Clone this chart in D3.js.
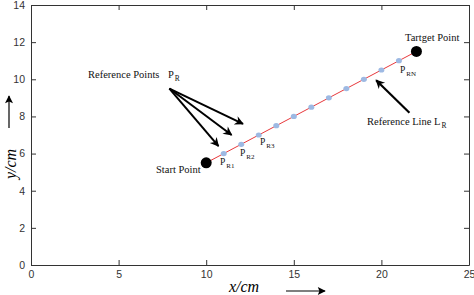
<!DOCTYPE html>
<html><head><meta charset="utf-8">
<script src="https://cdn.jsdelivr.net/npm/d3@7"></script>
<style>body{margin:0;background:#fff}svg{display:block}</style>
</head><body><svg id="c" width="474" height="295"></svg>
<script>
const xTicks = [0, 5, 10, 15, 20, 25];
const yTicks = [0, 2, 4, 6, 8, 10, 12, 14];
const startPoint = [10, 5.5];
const targetPoint = [22, 11.5];
const refX = [11, 12, 13, 14, 15, 16, 17, 18, 19, 20, 21];
const refY = [6, 6.5, 7, 7.5, 8, 8.5, 9, 9.5, 10, 10.5, 11];

const svg = d3.select("#c");
const x = d3.scaleLinear().domain([0, 25]).range([31, 469]);
const y = d3.scaleLinear().domain([0, 14]).range([265, 5]);

const defs = svg.append("defs");
defs.append("marker").attr("id", "ah").attr("viewBox", "0 0 10 10").attr("refX", 9).attr("refY", 5)
  .attr("markerWidth", 10).attr("markerHeight", 8).attr("markerUnits", "userSpaceOnUse").attr("orient", "auto")
  .append("path").attr("d", "M0,0 L10,5 L0,10 L2,5 Z").attr("fill", "#000");
defs.append("marker").attr("id", "ah2").attr("viewBox", "0 0 10 10").attr("refX", 9).attr("refY", 5)
  .attr("markerWidth", 13).attr("markerHeight", 9).attr("markerUnits", "userSpaceOnUse").attr("orient", "auto")
  .append("path").attr("d", "M0,0 L10,5 L0,10 L3,5 Z").attr("fill", "#000");

const axStyle = g => {
  g.selectAll("path.domain").attr("stroke", "#333");
  g.selectAll(".tick line").attr("stroke", "#333");
  g.selectAll(".tick text").attr("font-family", "Liberation Sans, Arial, sans-serif").attr("font-size", 10.5).attr("fill", "#333");
};
svg.append("g").attr("transform", `translate(0,${y(0)})`)
  .call(d3.axisBottom(x).tickValues(xTicks).tickSizeInner(-5).tickSizeOuter(0).tickPadding(6)).call(axStyle);
svg.append("g").attr("transform", `translate(${x(0)},0)`)
  .call(d3.axisLeft(y).tickValues(yTicks).tickSizeInner(-5).tickSizeOuter(0).tickPadding(6)).call(axStyle);
svg.append("g").attr("transform", `translate(0,${y(14)})`)
  .call(d3.axisTop(x).tickValues(xTicks).tickSizeInner(-5).tickSizeOuter(0).tickFormat("")).call(axStyle);
svg.append("g").attr("transform", `translate(${x(25)},0)`)
  .call(d3.axisRight(y).tickValues(yTicks).tickSizeInner(-5).tickSizeOuter(0).tickFormat("")).call(axStyle);

svg.append("line").attr("x1", x(startPoint[0])).attr("y1", y(startPoint[1]))
  .attr("x2", x(targetPoint[0])).attr("y2", y(targetPoint[1]))
  .attr("stroke", "#e8383c").attr("stroke-width", 1);

svg.selectAll("ellipse.rp").data(refX).join("ellipse").attr("class", "rp")
  .attr("cx", d => x(d)).attr("cy", (d, i) => y(refY[i])).attr("rx", 3).attr("ry", 2.6)
  .attr("fill", "#9db9e3");

svg.append("circle").attr("cx", x(startPoint[0])).attr("cy", y(startPoint[1])).attr("r", 5.5).attr("fill", "#000");
svg.append("circle").attr("cx", x(targetPoint[0])).attr("cy", y(targetPoint[1])).attr("r", 5.5).attr("fill", "#000");

const arrowFrom = [7.9, 9.5];
const arrowTo = [[12.1, 7.6], [11.45, 7.0], [10.7, 6.4]];
arrowTo.forEach(t => {
  svg.append("line").attr("x1", x(arrowFrom[0])).attr("y1", y(arrowFrom[1]))
    .attr("x2", x(t[0])).attr("y2", y(t[1])).attr("stroke", "#000").attr("stroke-width", 2)
    .attr("marker-end", "url(#ah2)");
});
svg.append("line").attr("x1", x(21.6)).attr("y1", y(8.2)).attr("x2", x(19.7)).attr("y2", y(9.95))
  .attr("stroke", "#000").attr("stroke-width", 2.2).attr("marker-end", "url(#ah2)");

const serif = "Liberation Serif, Times New Roman, serif";
function label(px, py, main, sub, size, subSize) {
  const t = svg.append("text").attr("x", px).attr("y", py).attr("font-family", serif)
    .attr("font-size", size || 10).attr("fill", "#111");
  t.append("tspan").text(main);
  if (sub) t.append("tspan").attr("dx", 1).attr("dy", 3).attr("font-size", subSize || 7).text(sub);
  return t;
}
label(88, 78, "Reference Points", null, 10.5);
label(168, 78, "P", "R", 10.5, 7.5);
label(367, 125, "Reference Line  L", "R", 10.5, 7.5);
label(405, 41, "Tartget Point", null, 10.5);
label(156, 173, "Start Point", null, 10.5);
label(220, 165, "P", "R1", 9.5, 7);
label(240, 156, "P", "R2", 9.5, 7);
label(260, 145, "P", "R3", 9.5, 7);
label(400, 73, "P", "RN", 9.5, 7);

svg.append("text").attr("transform", `translate(16,164) rotate(-90)`).attr("text-anchor", "middle")
  .attr("font-family", serif).attr("font-style", "italic").attr("font-size", 16).text("y/cm");
svg.append("text").attr("x", 244).attr("y", 292).attr("text-anchor", "middle")
  .attr("font-family", serif).attr("font-style", "italic").attr("font-size", 16).text("x/cm");
svg.append("line").attr("x1", 9).attr("y1", 128).attr("x2", 9).attr("y2", 96)
  .attr("stroke", "#000").attr("stroke-width", 1.2).attr("marker-end", "url(#ah)");
svg.append("line").attr("x1", 286).attr("y1", 291).attr("x2", 325).attr("y2", 291)
  .attr("stroke", "#000").attr("stroke-width", 1.2).attr("marker-end", "url(#ah)");
</script></body></html>
